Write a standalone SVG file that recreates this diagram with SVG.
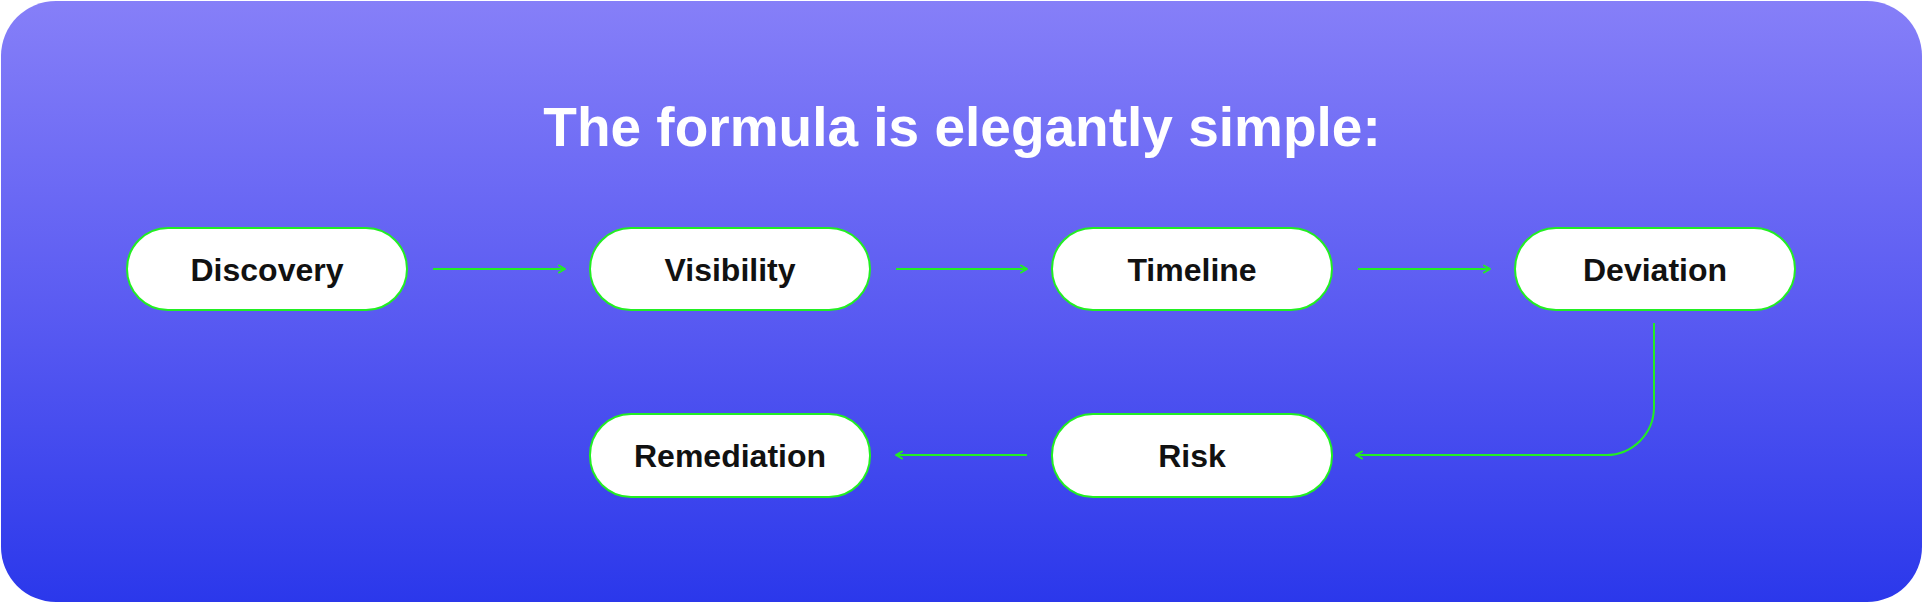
<svg xmlns="http://www.w3.org/2000/svg" width="1923" height="603" viewBox="0 0 1923 603">
<defs>
<linearGradient id="bg" x1="0" y1="0" x2="0" y2="1">
<stop offset="0" stop-color="#867ff8"/>
<stop offset="0.5" stop-color="#5b5cf2"/>
<stop offset="1" stop-color="#2b38eb"/>
</linearGradient>
<marker id="arr" viewBox="0 0 10 10" refX="8" refY="5" markerWidth="10" markerHeight="10" markerUnits="userSpaceOnUse" orient="auto">
<path d="M2,1.5 L8,5 L2,8.5" fill="none" stroke="#22ee22" stroke-width="2" stroke-linecap="round" stroke-linejoin="round"/>
</marker>
</defs>
<style>
.node rect{fill:#ffffff;stroke:#22ee22;stroke-width:2}
.node text{font-family:"Liberation Sans",Arial,sans-serif;font-weight:bold;font-size:32px;fill:#111111;text-anchor:middle}
.title{font-family:"Liberation Sans",Arial,sans-serif;font-weight:bold;font-size:55px;fill:#ffffff;text-anchor:middle}
.conn path{fill:none;stroke:#22ee22;stroke-width:2;marker-end:url(#arr)}
</style>
<rect x="1" y="1" width="1921" height="601" rx="55" ry="55" fill="url(#bg)"/>
<text class="title" x="962" y="146">The formula is elegantly simple:</text>
<g id="node-discovery" class="node"><rect x="127" y="228" width="280" height="82" rx="41"/><text x="267" y="281">Discovery</text></g>
<g id="node-visibility" class="node"><rect x="590" y="228" width="280" height="82" rx="41"/><text x="730" y="281">Visibility</text></g>
<g id="node-timeline" class="node"><rect x="1052" y="228" width="280" height="82" rx="41"/><text x="1192" y="281">Timeline</text></g>
<g id="node-deviation" class="node"><rect x="1515" y="228" width="280" height="82" rx="41"/><text x="1655" y="281">Deviation</text></g>
<g id="node-risk" class="node"><rect x="1052" y="414" width="280" height="83" rx="41"/><text x="1192" y="467">Risk</text></g>
<g id="node-remediation" class="node"><rect x="590" y="414" width="280" height="83" rx="41"/><text x="730" y="467">Remediation</text></g>
<g id="connectors" class="conn">
<path d="M433,269 H565"/>
<path d="M896,269 H1027"/>
<path d="M1358,269 H1490"/>
<path d="M1654,323 V407 A48,48 0 0 1 1606,455 H1356"/>
<path d="M1027,455 H896"/>
</g>
</svg>
